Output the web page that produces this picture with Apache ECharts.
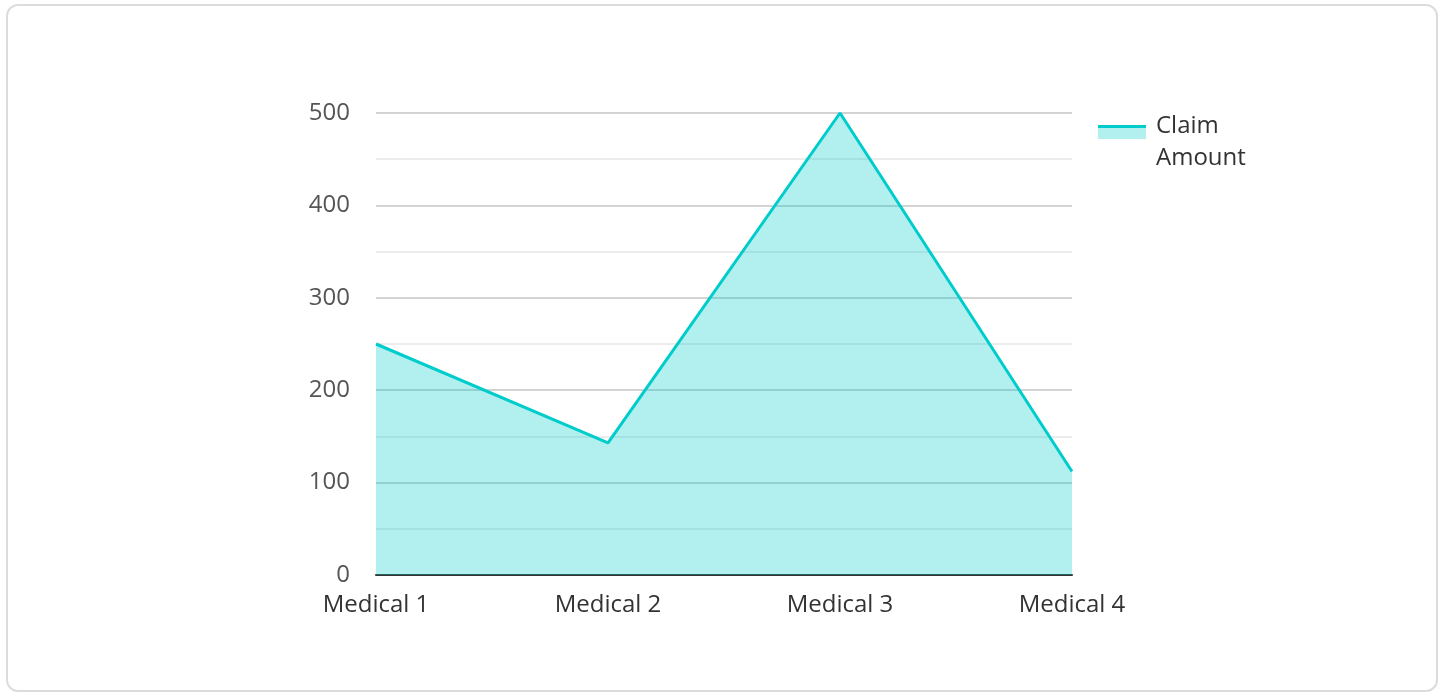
<!DOCTYPE html>
<html>
<head>
<meta charset="utf-8">
<script src="https://cdn.jsdelivr.net/npm/echarts@6/dist/echarts.min.js"></script>
<style>
html,body{margin:0;padding:0;background:#fff;}
#card{position:absolute;left:6px;top:4px;width:1428px;height:684px;border:2px solid #dcdcdc;border-radius:12px;box-sizing:content-box;}
#chart{position:absolute;left:0;top:0;width:1445px;height:693px;}
</style>
</head>
<body>
<div id="card"></div>
<div id="chart"></div>
<script>
const categories = ['Medical 1', 'Medical 2', 'Medical 3', 'Medical 4'];
const claimAmount = [250, 143, 500, 112];
const seriesName = 'Claim Amount';
const yTicks = [0, 100, 200, 300, 400, 500];

const chart = echarts.init(document.getElementById('chart'));
chart.setOption({
  animation: false,
  textStyle: { fontFamily: 'Open Sans' },
  grid: { left: 376, right: 373, top: 113, bottom: 118, containLabel: false },
  legend: {
    data: [{ name: seriesName }],
    orient: 'vertical',
    left: 1098, top: 95,
    padding: 0,
    icon: 'rect',
    itemWidth: 48, itemHeight: 14,
    itemStyle: {
      color: {
        type: 'linear', x: 0, y: 0, x2: 0, y2: 1,
        colorStops: [
          { offset: 0, color: '#00cccc' },
          { offset: 0.24, color: '#00cccc' },
          { offset: 0.24, color: '#b2f0f0' },
          { offset: 1, color: '#b2f0f0' }
        ]
      },
      borderWidth: 0
    },
    formatter: function (name) {
      return '{s| }\n' + name.split(' ').map(function (w) { return '{a|' + w + '}'; }).join('\n');
    },
    textStyle: {
      fontSize: 24, color: '#333', fontFamily: 'Open Sans',
      rich: {
        s: { fontSize: 10, lineHeight: 20 },
        a: { fontSize: 24, lineHeight: 32, color: '#333', fontFamily: 'Open Sans', padding: [0, 0, 0, 5] }
      }
    }
  },
  xAxis: {
    type: 'category',
    data: categories,
    boundaryGap: false,
    axisLine: { show: true, lineStyle: { color: '#333', width: 2 } },
    axisTick: { show: false },
    axisLabel: { fontSize: 24, color: '#333', margin: 18, fontFamily: 'Open Sans' },
    splitLine: { show: false }
  },
  yAxis: {
    type: 'value',
    min: yTicks[0], max: yTicks[yTicks.length - 1], interval: 100,
    axisLine: { show: false },
    axisTick: { show: false },
    axisLabel: { fontSize: 24, color: '#555', margin: 26, fontFamily: 'Open Sans' },
    splitLine: { show: true, lineStyle: { color: '#c4c4c4', width: 1.5 } },
    minorTick: { show: false, splitNumber: 2 },
    minorSplitLine: { show: true, lineStyle: { color: '#e6e6e6', width: 1.5 } }
  },
  series: [{
    name: seriesName,
    type: 'line',
    data: claimAmount,
    showSymbol: false,
    symbol: 'none',
    lineStyle: { color: '#00cccc', width: 3 },
    itemStyle: { color: '#00cccc' },
    areaStyle: { color: '#00cccc', opacity: 0.3 }
  }]
});
</script>
</body>
</html>
